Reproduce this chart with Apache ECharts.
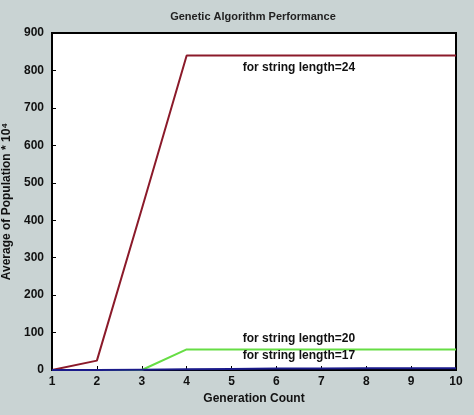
<!DOCTYPE html>
<html><head><meta charset="utf-8">
<script src="https://cdn.jsdelivr.net/npm/echarts@6/dist/echarts.min.js"></script>
<style>html,body{margin:0;background:#c9d3d3}#c{width:474px;height:415px}</style>
</head><body><div id="c"></div>
<script>
const gens = [1,2,3,4,5,6,7,8,9,10];
const len24 = [0,25,430,840,840,840,840,840,840,840];
const len20 = [0,0,0,55,55,55,55,55,55,55];
const len17 = [0,0,1,2,3,4,4,5,5,5];
const yTicks = [0,100,200,300,400,500,600,700,800,900];
const chart = echarts.init(document.getElementById('c'));
const ax = {fontFamily:'Liberation Sans',fontWeight:'bold',color:'#111',fontSize:12};
const lbl = (t,off)=>({show:true,formatter:t,position:'inside',offset:off,color:'#111',fontWeight:'bold',fontSize:12,fontFamily:'Liberation Sans'});
chart.setOption({
  backgroundColor:'#c9d3d3',
  title:{text:'Genetic Algorithm Performance',left:248,top:6,textAlign:'center',
    textStyle:{fontSize:11,fontWeight:'bold',color:'#222',fontFamily:'Liberation Sans'}},
  grid:{left:52,right:18,top:33,bottom:45,outerBoundsMode:'none',containLabel:false,backgroundColor:'#fff',show:true,borderColor:'#000',borderWidth:2},
  xAxis:{type:'value',min:1,max:10,interval:1,name:'Generation Count',nameLocation:'middle',nameGap:22,
    nameTextStyle:ax,axisLabel:Object.assign({margin:6},ax),
    axisLine:{lineStyle:{color:'#000',width:2}},axisTick:{inside:true,length:4,lineStyle:{color:'#000'}},splitLine:{show:false}},
  yAxis:{type:'value',min:0,max:900,interval:100,name:'Average of Population * 10\u2074',nameLocation:'middle',nameGap:36,
    nameTextStyle:ax,axisLabel:Object.assign({margin:8,formatter:v=>yTicks.includes(v)?String(v):''},ax),
    axisLine:{lineStyle:{color:'#000',width:2}},axisTick:{inside:true,length:4,lineStyle:{color:'#000'}},splitLine:{show:false}},
  series:[
    {type:'line',data:gens.map((g,i)=>[g,len24[i]]),symbol:'none',lineStyle:{color:'#8b1a2a',width:2},
     markPoint:{symbol:'circle',symbolSize:1,itemStyle:{color:'transparent'},data:[{coord:[6.5,840],label:lbl('for string length=24',[0,12])}]}},
    {type:'line',data:gens.map((g,i)=>[g,len20[i]]),symbol:'none',lineStyle:{color:'#66dd44',width:2},
     markPoint:{symbol:'circle',symbolSize:1,itemStyle:{color:'transparent'},data:[{coord:[6.5,55],label:lbl('for string length=20',[0,-11])}]}},
    {type:'line',data:gens.map((g,i)=>[g,len17[i]]),symbol:'none',lineStyle:{color:'#1a1a8a',width:2},
     markPoint:{symbol:'circle',symbolSize:1,itemStyle:{color:'transparent'},data:[{coord:[6.5,5],label:lbl('for string length=17',[0,-12])}]}}
  ]
});
</script></body></html>
